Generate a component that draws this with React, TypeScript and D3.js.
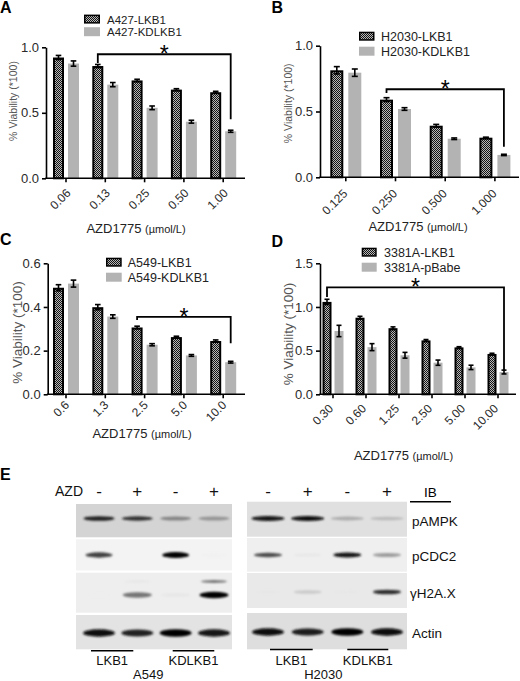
import { useEffect, useRef } from "react";
import * as d3 from "d3";

// ---- Panel A : A427 ----
const concA = ["0.06", "0.13", "0.25", "0.50", "1.00"];
const a427Lkb1 = [0.922, 0.857, 0.747, 0.677, 0.657];
const a427Lkb1Err = [0.016, 0.012, 0.009, 0.007, 0.007];
const a427Kd = [0.876, 0.715, 0.538, 0.432, 0.359];
const a427KdErr = [0.02, 0.016, 0.014, 0.011, 0.008];

// ---- Panel B : H2030 ----
const concB = ["0.125", "0.250", "0.500", "1.000"];
const h2030Lkb1 = [0.813, 0.59, 0.392, 0.301];
const h2030Lkb1Err = [0.028, 0.015, 0.01, 0.004];
const h2030Kd = [0.795, 0.519, 0.293, 0.17];
const h2030KdErr = [0.028, 0.01, 0.006, 0.005];

// ---- Panel C : A549 ----
const concC = ["0.6", "1.3", "2.5", "5.0", "10.0"];
const a549Lkb1 = [0.488, 0.399, 0.306, 0.262, 0.244];
const a549Lkb1Err = [0.014, 0.012, 0.006, 0.004, 0.005];
const a549Kd = [0.507, 0.356, 0.227, 0.178, 0.147];
const a549KdErr = [0.016, 0.008, 0.005, 0.004, 0.004];

// ---- Panel D : 3381A ----
const concD = ["0.30", "0.60", "1.25", "2.50", "5.00", "10.00"];
const c3381Lkb1 = [1.058, 0.877, 0.757, 0.617, 0.537, 0.462];
const c3381Lkb1Err = [0.03, 0.016, 0.015, 0.01, 0.008, 0.008];
const c3381Pbabe = [0.725, 0.54, 0.447, 0.362, 0.308, 0.255];
const c3381PbabeErr = [0.065, 0.04, 0.033, 0.03, 0.025, 0.022];

// ---- Panel E : western blots (relative band intensity 0..1) ----
const lanes = ["LKB1 -", "LKB1 +", "KDLKB1 -", "KDLKB1 +"];
const azdSigns = ["-", "+", "-", "+"];
const proteins = ["pAMPK", "pCDC2", "γH2A.X", "Actin"];
const a549pAMPK = [0.85, 0.78, 0.5, 0.45];
const a549pCDC2 = [0.7, 0.0, 1.0, 0.04];
const a549H2axUpper = [0.0, 0.12, 0.0, 0.55];
const a549H2ax = [0.02, 0.55, 0.1, 1.0];
const a549Actin = [0.95, 0.85, 1.0, 0.92];
const h2030pAMPK = [0.92, 0.95, 0.38, 0.32];
const h2030pCDC2 = [0.65, 0.12, 0.9, 0.45];
const h2030H2ax = [0.06, 0.28, 0.06, 0.8];
const h2030Actin = [0.95, 0.88, 1.0, 0.97];

const FONT = "'Liberation Sans', Arial, Helvetica, sans-serif";
const LIGHT = "#b3b3b3";

interface Bracket {
  from: number;
  to: number;
  y: number;
  left: number;
  right: number;
}

interface Panel {
  letter: string;
  letterX: number;
  letterY: number;
  cats: string[];
  series: number[][];
  errors: number[][];
  names: string[];
  yMax: number;
  yTicks: number[];
  axisX: number;
  axisEnd: number;
  top: number;
  bottom: number;
  firstCenter: number;
  step: number;
  barW: number;
  gap: number;
  capW: number;
  tickDx: number;
  tickDy: number;
  titleX: number;
  titleY: number;
  yTitleX: number;
  yTitleY: number;
  yTitleSize: number;
  legendX: number;
  legendY: number;
  legendRow: number;
  legendW: number;
  legendTextX: number;
  legendSize: number;
  bracket: Bracket;
}

const panels: Panel[] = [
  {
    letter: "A", letterX: 0, letterY: 12.7,
    cats: concA, series: [a427Lkb1, a427Kd], errors: [a427Lkb1Err, a427KdErr],
    names: ["A427-LKB1", "A427-KDLKB1"],
    yMax: 1.0, yTicks: [0, 0.5, 1.0],
    axisX: 46, axisEnd: 245, top: 47.3, bottom: 178.3,
    firstCenter: 66, step: 39.3, barW: 11, gap: 4, capW: 2.8,
    tickDx: 5.5, tickDy: 15.5,
    titleX: 136, titleY: 233,
    yTitleX: 16.5, yTitleY: 101, yTitleSize: 10.5,
    legendX: 84, legendY: 14.6, legendRow: 12.6, legendW: 16, legendTextX: 107, legendSize: 11.5,
    bracket: { from: 1, to: 4, y: 0.947, left: 0.88, right: 0.45 }
  },
  {
    letter: "B", letterX: 271.5, letterY: 13.3,
    cats: concB, series: [h2030Lkb1, h2030Kd], errors: [h2030Lkb1Err, h2030KdErr],
    names: ["H2030-LKB1", "H2030-KDLKB1"],
    yMax: 1.0, yTicks: [0, 0.5, 1.0],
    axisX: 320, axisEnd: 519, top: 45.7, bottom: 177.3,
    firstCenter: 345.8, step: 49.7, barW: 13, gap: 5, capW: 3,
    tickDx: 2.5, tickDy: 17,
    titleX: 418, titleY: 231,
    yTitleX: 291.5, yTitleY: 103.3, yTitleSize: 10.5,
    legendX: 359, legendY: 31.7, legendRow: 15, legendW: 15.5, legendTextX: 381, legendSize: 12.5,
    bracket: { from: 1, to: 3, y: 0.669, left: 0.64, right: 0.233 }
  },
  {
    letter: "C", letterX: 0, letterY: 245,
    cats: concC, series: [a549Lkb1, a549Kd], errors: [a549Lkb1Err, a549KdErr],
    names: ["A549-LKB1", "A549-KDLKB1"],
    yMax: 0.6, yTicks: [0, 0.2, 0.4, 0.6],
    axisX: 47.7, axisEnd: 245, top: 263.3, bottom: 394.3,
    firstCenter: 66, step: 39.3, barW: 11, gap: 4, capW: 2.8,
    tickDx: 4, tickDy: 11.5,
    titleX: 142, titleY: 438,
    yTitleX: 22, yTitleY: 332.5, yTitleSize: 13.5,
    legendX: 106, legendY: 257.7, legendRow: 15, legendW: 15.7, legendTextX: 127.7, legendSize: 12.5,
    bracket: { from: 2, to: 4, y: 0.355, left: 0.34, right: 0.234 }
  },
  {
    letter: "D", letterX: 271.5, letterY: 246.7,
    cats: concD, series: [c3381Lkb1, c3381Pbabe], errors: [c3381Lkb1Err, c3381PbabeErr],
    names: ["3381A-LKB1", "3381A-pBabe"],
    yMax: 1.5, yTicks: [0, 0.5, 1.0, 1.5],
    axisX: 320, axisEnd: 516, top: 263.3, bottom: 394.3,
    firstCenter: 333, step: 33, barW: 9, gap: 3, capW: 2.5,
    tickDx: 1, tickDy: 15,
    titleX: 403.5, titleY: 459.5,
    yTitleX: 292.5, yTitleY: 334, yTitleSize: 13.5,
    legendX: 361.7, legendY: 247.7, legendRow: 15, legendW: 15, legendTextX: 384, legendSize: 12.5,
    bracket: { from: 0, to: 5, y: 1.225, left: 1.114, right: 0.278 }
  }
];

type Sel = d3.Selection<SVGSVGElement, unknown, null, undefined>;

function drawBarPanel(svg: Sel, p: Panel) {
  const g = svg.append("g").attr("font-family", FONT);
  const n = p.cats.length;

  const x = d3
    .scaleBand<string>()
    .domain(p.cats)
    .range([p.firstCenter - p.step / 2, p.firstCenter + p.step * (n - 0.5)]);
  const y = d3.scaleLinear().domain([0, p.yMax]).range([p.bottom, p.top]);

  const cx = (c: string) => (x(c) ?? 0) + x.bandwidth() / 2;
  const barX = (c: string, s: number) => cx(c) + (s === 0 ? -p.gap / 2 - p.barW : p.gap / 2);

  // Barres
  [0, 1].forEach((s) => {
    const vals = p.series[s];
    const inset = s === 0 ? 1 : 0;
    g.append("g")
      .selectAll("rect")
      .data(p.cats)
      .join("rect")
      .attr("x", (c) => barX(c, s) + inset)
      .attr("y", (_c, i) => y(vals[i]) + inset)
      .attr("width", p.barW - 2 * inset)
      .attr("height", (_c, i) => p.bottom - y(vals[i]) - inset)
      .attr("fill", s === 0 ? "url(#hatch)" : LIGHT)
      .attr("stroke", s === 0 ? "#000" : "none")
      .attr("stroke-width", 2);
  });

  // Barres d'erreur
  [0, 1].forEach((s) => {
    const vals = p.series[s];
    const errs = p.errors[s];
    const eg = g.append("g").attr("stroke", "#000").attr("stroke-width", 1.6);
    p.cats.forEach((c, i) => {
      const mx = barX(c, s) + p.barW / 2;
      const lo = y(vals[i] - errs[i]);
      const hi = y(vals[i] + errs[i]);
      eg.append("line").attr("x1", mx).attr("x2", mx).attr("y1", lo).attr("y2", hi);
      [lo, hi].forEach((t) =>
        eg.append("line").attr("x1", mx - p.capW).attr("x2", mx + p.capW).attr("y1", t).attr("y2", t)
      );
    });
  });

  // Axe Y
  const yAxis = g
    .append("g")
    .attr("transform", `translate(${p.axisX},0)`)
    .call(
      d3
        .axisLeft(y)
        .tickValues(p.yTicks)
        .tickSize(4)
        .tickSizeOuter(0)
        .tickPadding(3)
        .tickFormat(d3.format(".1f"))
    );
  yAxis.attr("font-family", FONT).attr("font-size", 13);
  yAxis.select(".domain").attr("stroke-width", 1.6);
  yAxis.selectAll(".tick line").attr("stroke-width", 1.6);
  yAxis.selectAll(".tick text").attr("fill", "#2a2a2a");

  // Axe X : étiquettes inclinées à 45°
  const xAxis = g
    .append("g")
    .attr("transform", `translate(0,${p.bottom})`)
    .call(d3.axisBottom(x).tickSize(4).tickSizeOuter(0));
  xAxis.attr("font-family", FONT).attr("font-size", 12);
  xAxis.select(".domain").remove();
  xAxis.selectAll(".tick line").attr("stroke-width", 1.6);
  xAxis
    .append("line")
    .attr("x1", p.axisX - 0.8)
    .attr("x2", p.axisEnd)
    .attr("stroke", "#000")
    .attr("stroke-width", 1.6);
  xAxis
    .selectAll(".tick text")
    .attr("y", 0)
    .attr("dy", 0)
    .attr("fill", "#2a2a2a")
    .attr("text-anchor", "end")
    .attr("transform", `translate(${p.tickDx},${p.tickDy}) rotate(-45)`);

  // Titre X
  const xt = g
    .append("text")
    .attr("x", p.titleX)
    .attr("y", p.titleY)
    .attr("text-anchor", "middle")
    .attr("fill", "#222");
  xt.append("tspan").attr("font-size", 13).text("AZD1775 ");
  xt.append("tspan").attr("font-size", 11).text("(µmol/L)");

  // Titre Y
  g.append("text")
    .attr("transform", `translate(${p.yTitleX},${p.yTitleY}) rotate(-90)`)
    .attr("text-anchor", "middle")
    .attr("font-size", p.yTitleSize)
    .attr("fill", "#555")
    .text("% Viability (*100)");

  // Lettre du panneau
  g.append("text")
    .attr("x", p.letterX)
    .attr("y", p.letterY)
    .attr("font-size", 16)
    .attr("font-weight", "bold")
    .attr("fill", "#000")
    .text(p.letter);

  // Légende
  p.names.forEach((name, s) => {
    const ly = p.legendY + s * p.legendRow;
    const inset = s === 0 ? 0.75 : 0;
    g.append("rect")
      .attr("x", p.legendX + inset)
      .attr("y", ly + inset)
      .attr("width", p.legendW - 2 * inset)
      .attr("height", 9 - 2 * inset)
      .attr("fill", s === 0 ? "url(#hatch)" : LIGHT)
      .attr("stroke", s === 0 ? "#000" : "none")
      .attr("stroke-width", 1.5);
    g.append("text")
      .attr("x", p.legendTextX)
      .attr("y", ly + 9)
      .attr("font-size", p.legendSize)
      .attr("fill", "#222")
      .text(name);
  });

  // Crochet de significativité
  const b = p.bracket;
  const bx0 = barX(p.cats[b.from], 0) + p.barW / 2;
  const bx1 = barX(p.cats[b.to], 1) + p.barW / 2;
  g.append("path")
    .attr("d", `M${bx0},${y(b.left)}V${y(b.y)}H${bx1}V${y(b.right)}`)
    .attr("fill", "none")
    .attr("stroke", "#000")
    .attr("stroke-width", 1.8);
  const starSize = 23;
  g.append("text")
    .attr("x", (bx0 + bx1) / 2)
    .attr("y", y(b.y) - 5 + 0.57 * starSize)
    .attr("text-anchor", "middle")
    .attr("font-size", starSize)
    .attr("fill", "#000")
    .text("*");
}

interface BandRow {
  values: number[];
  y: number;
  h: number;
  w: number;
}

interface Blot {
  cell: string;
  x0: number;
  x1: number;
  laneRange: [number, number];
  strips: [number, number][];
  bgs: string[];
  rows: BandRow[];
  groupLines: [number, number][];
  lineY: number;
  cellX: number;
}

const blots: Blot[] = [
  {
    cell: "A549",
    x0: 76,
    x1: 232,
    laneRange: [99, 214],
    strips: [[504, 537.3], [539.3, 570.5], [572.7, 612.7], [615, 649.3]],
    bgs: ["#d4d4d4", "#f3f3f3", "#eeeeee", "#e3e3e3"],
    rows: [
      { values: a549pAMPK, y: 518.5, h: 5, w: 31 },
      { values: a549pCDC2, y: 555, h: 6, w: 27 },
      { values: a549H2axUpper, y: 581.5, h: 3.5, w: 26 },
      { values: a549H2ax, y: 595, h: 6.5, w: 29 },
      { values: a549Actin, y: 633, h: 7.5, w: 32 }
    ],
    groupLines: [[91, 133.3], [172.7, 214.3]],
    lineY: 650.7,
    cellX: 148.3
  },
  {
    cell: "H2030",
    x0: 247,
    x1: 407,
    laneRange: [268, 387],
    strips: [[501.7, 536.7], [538, 571.7], [573, 608], [613, 649.3]],
    bgs: ["#e0e0e0", "#efefef", "#e9e9e9", "#dedede"],
    rows: [
      { values: h2030pAMPK, y: 518.5, h: 5, w: 33 },
      { values: h2030pCDC2, y: 555, h: 5, w: 28 },
      { values: h2030H2ax, y: 592, h: 5, w: 28 },
      { values: h2030Actin, y: 632, h: 7.5, w: 32 }
    ],
    groupLines: [[270, 312.7], [347.3, 388.3]],
    lineY: 649.5,
    cellX: 323.3
  }
];

function drawBlots(svg: Sel) {
  const g = svg.append("g").attr("font-family", FONT);

  g.append("text")
    .attr("x", 0)
    .attr("y", 480)
    .attr("font-size", 16)
    .attr("font-weight", "bold")
    .text("E");

  g.append("text").attr("x", 55).attr("y", 496).attr("font-size", 14).attr("fill", "#111").text("AZD");

  blots.forEach((bl) => {
    const lane = d3.scalePoint<string>().domain(lanes).range(bl.laneRange);

    // Signes - / +
    g.append("g")
      .selectAll("text")
      .data(lanes)
      .join("text")
      .attr("x", (d) => lane(d) ?? 0)
      .attr("y", 497)
      .attr("text-anchor", "middle")
      .attr("font-size", 17)
      .attr("fill", "#111")
      .text((_d, i) => azdSigns[i]);

    // Membranes
    bl.strips.forEach(([y0, y1], i) => {
      g.append("rect")
        .attr("x", bl.x0)
        .attr("y", y0)
        .attr("width", bl.x1 - bl.x0)
        .attr("height", y1 - y0)
        .attr("fill", bl.bgs[i]);
    });

    // Bandes
    const clipId = `clip-${bl.cell}`;
    const clip = svg.select("defs").append("clipPath").attr("id", clipId);
    bl.strips.forEach(([y0, y1]) =>
      clip.append("rect").attr("x", bl.x0).attr("y", y0).attr("width", bl.x1 - bl.x0).attr("height", y1 - y0)
    );
    const bandG = g.append("g").attr("clip-path", `url(#${clipId})`).attr("filter", "url(#blur)");
    const tone = d3.scaleLinear<string>().domain([0, 1]).range(["#e0e0e0", "#000000"]);
    bl.rows.forEach((row) => {
      bandG
        .append("g")
        .selectAll("ellipse")
        .data(lanes)
        .join("ellipse")
        .attr("cx", (d) => lane(d) ?? 0)
        .attr("cy", row.y)
        .attr("rx", row.w / 2)
        .attr("ry", (_d, i) => (row.h / 2) * (0.6 + 0.4 * row.values[i]))
        .attr("fill", (_d, i) => tone(row.values[i]))
        .attr("opacity", (_d, i) => Math.min(1, row.values[i] * 1.6));
    });

    // Groupes en bas
    const names = ["LKB1", "KDLKB1"];
    bl.groupLines.forEach(([a, b], i) => {
      g.append("line")
        .attr("x1", a)
        .attr("x2", b)
        .attr("y1", bl.lineY)
        .attr("y2", bl.lineY)
        .attr("stroke", "#000")
        .attr("stroke-width", 1.5);
      g.append("text")
        .attr("x", (a + b) / 2)
        .attr("y", 665)
        .attr("text-anchor", "middle")
        .attr("font-size", 13)
        .attr("fill", "#111")
        .text(names[i]);
    });
    g.append("text")
      .attr("x", bl.cellX)
      .attr("y", 679)
      .attr("text-anchor", "middle")
      .attr("font-size", 13)
      .attr("fill", "#111")
      .text(bl.cell);
  });

  // IB et noms des protéines
  g.append("text").attr("x", 430.5).attr("y", 496.5).attr("text-anchor", "middle").attr("font-size", 13.5).text("IB");
  g.append("line")
    .attr("x1", 410)
    .attr("x2", 451)
    .attr("y1", 501.7)
    .attr("y2", 501.7)
    .attr("stroke", "#000")
    .attr("stroke-width", 1.5);
  const labelY = [526, 561, 598, 638];
  g.append("g")
    .selectAll("text")
    .data(proteins)
    .join("text")
    .attr("x", (_d, i) => (i === 2 ? 410 : 412))
    .attr("y", (_d, i) => labelY[i])
    .attr("font-size", 13.5)
    .attr("fill", "#111")
    .text((d) => d);
}

export default function App() {
  const svgRef = useRef<SVGSVGElement>(null);

  useEffect(() => {
    if (!svgRef.current) return;
    const svg = d3.select(svgRef.current);
    svg.selectAll("*").remove();

    const defs = svg.append("defs");
    const pat = defs
      .append("pattern")
      .attr("id", "hatch")
      .attr("width", 2)
      .attr("height", 2)
      .attr("patternUnits", "userSpaceOnUse");
    pat.append("rect").attr("width", 2).attr("height", 2).attr("fill", "#b8b8b8");
    pat.append("rect").attr("width", 1).attr("height", 1).attr("fill", "#141414");
    pat.append("rect").attr("x", 1).attr("y", 1).attr("width", 1).attr("height", 1).attr("fill", "#141414");

    defs
      .append("filter")
      .attr("id", "blur")
      .attr("x", "-20%")
      .attr("y", "-50%")
      .attr("width", "140%")
      .attr("height", "200%")
      .append("feGaussianBlur")
      .attr("stdDeviation", 1.3);

    panels.forEach((p) => drawBarPanel(svg, p));
    drawBlots(svg);
  }, []);

  return (
    <svg
      ref={svgRef}
      width={520}
      height={681}
      style={{ position: "absolute", left: 0, top: 0, background: "#fff" }}
    />
  );
}
